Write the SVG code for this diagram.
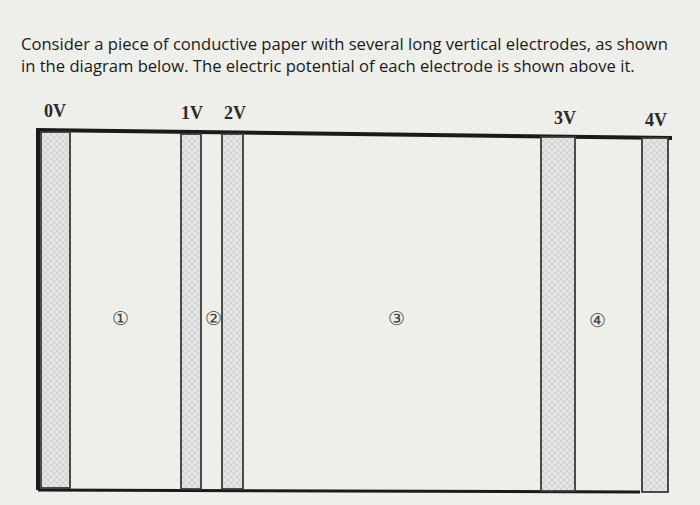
<svg xmlns="http://www.w3.org/2000/svg" width="700" height="505" viewBox="0 0 700 505">
<defs>
<pattern id="hatch" width="6" height="6" patternUnits="userSpaceOnUse">
<rect width="6" height="6" fill="#e2e5e2"/>
<path d="M0 0L6 6M6 0L0 6" stroke="#c6cac8" stroke-width="0.7"/>
</pattern>
<style>
.t{font-family:"Open Sans","Liberation Sans",sans-serif;font-size:16.6px;fill:#1a1a1a}
.v{font-family:"Liberation Serif",serif;font-weight:bold;font-size:18px;fill:#2a2a2a;text-anchor:middle}
.c{font-family:"DejaVu Serif","Liberation Serif",serif;font-size:19px;fill:#444;text-anchor:middle}
.e{fill:url(#hatch);stroke:#3a3a3a;stroke-width:1.8}
</style>
</defs>
<rect width="700" height="505" fill="#eeeeea"/>
<text class="t" x="21" y="50">Consider a piece of conductive paper with several long vertical electrodes, as shown</text>
<text class="t" x="21" y="72">in the diagram below. The electric potential of each electrode is shown above it.</text>
<g id="labels">
<text class="v" x="55" y="117">0V</text>
<text class="v" x="192" y="119">1V</text>
<text class="v" x="235" y="119">2V</text>
<text class="v" x="565" y="124">3V</text>
<text class="v" x="656" y="126">4V</text>
</g>
<g id="paper">
<path d="M38 490L38 130L672 138L672 492Z" fill="#efefea"/>
<path d="M38 490L38 130L672 138" fill="none" stroke="#1a1a1a" stroke-width="4"/>
<path d="M38 490L640 492" fill="none" stroke="#1a1a1a" stroke-width="3"/>
</g>
<g id="electrodes">
<rect class="e" x="41" y="132" width="29" height="356"/>
<rect class="e" x="181" y="134" width="20" height="355"/>
<rect class="e" x="222" y="134" width="21" height="355"/>
<rect class="e" x="541" y="137" width="34" height="354"/>
<rect class="e" x="642" y="138" width="26" height="354"/>
</g>
<g id="regions">
<text class="c" x="120" y="325">①</text>
<text class="c" x="213" y="325">②</text>
<text class="c" x="396" y="325">③</text>
<text class="c" x="597" y="327">④</text>
</g>
</svg>
